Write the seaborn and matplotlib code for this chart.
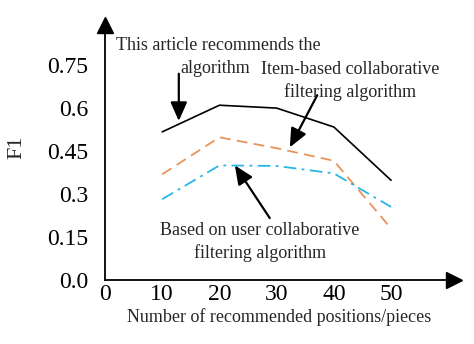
import matplotlib
matplotlib.use("Agg")
import matplotlib.pyplot as plt
import seaborn as sns
import pandas as pd

positions = [10, 20, 30, 40, 50]
this_article = [0.517, 0.610, 0.600, 0.534, 0.348]
item_based = [0.369, 0.498, 0.460, 0.416, 0.180]
user_based = [0.282, 0.400, 0.398, 0.372, 0.255]
yticks = [0.0, 0.15, 0.3, 0.45, 0.6, 0.75]
ytick_labels = ["0.0", "0.15", "0.3", "0.45", "0.6", "0.75"]
xticks = [0, 10, 20, 30, 40, 50]

sns.set_style("white")
plt.rcParams['font.family'] = ['Liberation Serif', 'DejaVu Serif']

W, H = 474, 344
fig = plt.figure(figsize=(W / 100, H / 100), dpi=100)
ax = fig.add_axes([105 / W, 64 / H, 349 / W, 255 / H])

df = pd.DataFrame({"x": positions, "a": this_article, "b": item_based, "c": user_based})
sns.lineplot(data=df, x="x", y="a", ax=ax, color="black", lw=1.2)
sns.lineplot(data=df, x="x", y="b", ax=ax, color="#E8935A", lw=1.3, linestyle=(0, (6, 3.5)))
sns.lineplot(data=df, x="x", y="c", ax=ax, color="#29B6E6", lw=1.3, linestyle=(0, (7, 3, 1.5, 3)))

ax.set_xlim(0, 61)
ax.set_ylim(0, 0.89)
for s in ["top", "right"]:
    ax.spines[s].set_visible(False)
for s in ["left", "bottom"]:
    ax.spines[s].set_linewidth(1.3)
    ax.spines[s].set_color("black")
ax.plot(1, 0, ">k", ms=11, transform=ax.transAxes, clip_on=False)
ax.plot(0, 1, "^k", ms=11, transform=ax.transAxes, clip_on=False)

ax.set_xticks(xticks)
ax.set_xticklabels([str(v) for v in xticks])
ax.set_yticks(yticks)
ax.set_yticklabels(ytick_labels)
ax.tick_params(axis="both", direction="in", length=9, width=1.3, colors="black", labelsize=17)
ax.tick_params(axis="y", pad=12)
ax.tick_params(axis="x", pad=3)

ax.set_xlabel("Number of recommended positions/pieces", fontsize=13, labelpad=2)
ax.set_ylabel("F1", fontsize=16)
ax.yaxis.set_label_coords(-0.225, 0.52)

ap = dict(arrowstyle="-|>,head_length=0.95,head_width=0.42", color="black", lw=1.6,
          mutation_scale=12, shrinkA=0, shrinkB=0)
ax.annotate("", xy=(12.9, 0.555), xytext=(12.9, 0.72), arrowprops=ap)
ax.annotate("", xy=(32.3, 0.463), xytext=(37.1, 0.645), arrowprops=ap)
ax.annotate("", xy=(22.7, 0.40), xytext=(28.8, 0.216), arrowprops=ap)

tk = dict(fontsize=13, ha="center", va="center")
ax.text(19.8, 0.818, "This article recommends the", **tk)
ax.text(19.3, 0.738, "algorithm", **tk)
ax.text(42.8, 0.733, "Item-based collaborative", **tk)
ax.text(42.8, 0.655, "filtering algorithm", **tk)
ax.text(27.1, 0.174, "Based on user collaborative", **tk)
ax.text(27.1, 0.094, "filtering algorithm", **tk)

fig.savefig("out.png", dpi=100)
